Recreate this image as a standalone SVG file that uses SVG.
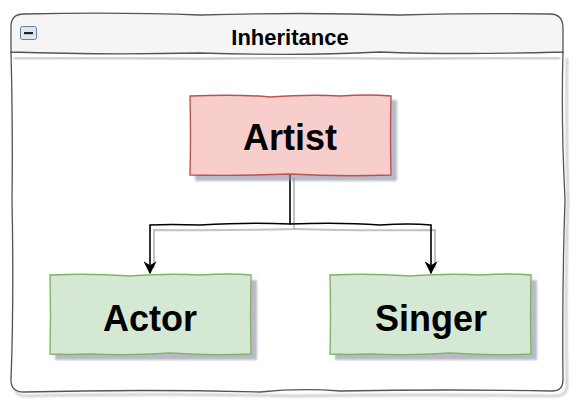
<svg xmlns="http://www.w3.org/2000/svg" width="584" height="414" viewBox="0 0 584 414">
<defs>
<style>
.t{font-family:"Liberation Sans",Arial,sans-serif;font-weight:bold;fill:#000;text-anchor:middle}
.sh{fill:#8a8fa3;opacity:0.6}
.shl{fill:none;stroke:#8a8fa3;opacity:0.55;stroke-width:2}
.edge{fill:none;stroke:#000;stroke-width:1.6}
</style>
<marker id="arr" viewBox="0 0 10 10" refX="9" refY="5" markerWidth="13" markerHeight="13" orient="auto" markerUnits="userSpaceOnUse">
<path d="M0,0 L10,5 L0,10 L3,5 Z" fill="#000"/>
</marker>
<filter id="blur" x="-10%" y="-10%" width="120%" height="120%"><feGaussianBlur stdDeviation="1.2"/></filter>
</defs>
<rect width="584" height="414" fill="#fff"/>

<g id="container">
<path class="shl" filter="url(#blur)" d="M14,58 Q12,120 15,200 Q13,300 15,385 Q15,396 26,396 Q150,393 290,396 Q420,394 556,396 Q567,396 567,385 Q565,290 568,200 Q566,120 567,58"/>
<path d="M11,52 Q13,130 12,200 Q14,300 11,380 Q11,392 24,392 Q140,389 260,392 Q300,388 340,391 Q450,389 552,391 Q563,391 563,380 Q562,290 565,200 Q561,120 563,52 Z" fill="#fff" stroke="#555" stroke-width="1.3"/>
<path d="M11,52 L11,26 Q11,14 24,14 Q120,12 200,15 Q300,12 400,15 Q480,13 550,14 Q563,14 563,28 L563,52 Q460,55 380,52 Q300,56 200,53 Q100,55 11,52 Z" fill="#f5f5f5" stroke="#555" stroke-width="1.3"/>
<path d="M14,58 Q100,57 200,59 Q300,56 400,59 Q480,57 560,58" fill="none" stroke="#8a8fa3" stroke-width="2.5" opacity="0.6" filter="url(#blur)"/>
<rect x="20.5" y="26.5" width="16" height="13" rx="2" fill="#dfe6ee" stroke="#6b7f95"/>
<rect x="24" y="32" width="9" height="2.2" fill="#222"/>
<text class="t" x="290" y="45" font-size="22">Inheritance</text>
</g>

<g id="edges">
<path class="shl" d="M294,178 L294,229 Q220,231 154,230 L154,268"/>
<path class="shl" d="M294,229 Q360,231 435,230 L435,268"/>
<path class="edge" d="M290,175 L290,224 Q250,222 200,225 Q170,224 150,225 L150,273" marker-end="url(#arr)"/>
<path class="edge" d="M290,224 Q340,222 380,225 Q410,223 431,225 L431,273" marker-end="url(#arr)"/>
</g>

<g id="artist">
<rect class="sh" x="195" y="100" width="202" height="81" filter="url(#blur)"/>
<path d="M190,96 Q240,94 270,97 Q310,94 340,96 Q370,94 391,96 Q390,135 391,175 Q340,177 290,174 Q240,176 190,175 Q191,135 190,96 Z" fill="#f8cecc" stroke="#b85450" stroke-width="1.4"/>
<text class="t" x="290" y="150" font-size="36">Artist</text>
</g>

<g id="actor">
<rect class="sh" x="55" y="280" width="202" height="80" filter="url(#blur)"/>
<path d="M50,275 Q90,273 130,276 Q170,273 200,275 Q230,273 251,275 Q250,315 251,354 Q210,356 170,353 Q130,356 90,354 Q70,355 50,354 Q51,315 50,275 Z" fill="#d5e8d4" stroke="#82b366" stroke-width="1.4"/>
<text class="t" x="150" y="331" font-size="36">Actor</text>
</g>

<g id="singer">
<rect class="sh" x="335" y="280" width="202" height="80" filter="url(#blur)"/>
<path d="M330,275 Q370,273 410,276 Q450,273 480,275 Q510,273 531,275 Q530,315 531,354 Q490,356 450,353 Q410,356 370,354 Q350,355 330,354 Q331,315 330,275 Z" fill="#d5e8d4" stroke="#82b366" stroke-width="1.4"/>
<text class="t" x="431" y="331" font-size="36">Singer</text>
</g>
</svg>
